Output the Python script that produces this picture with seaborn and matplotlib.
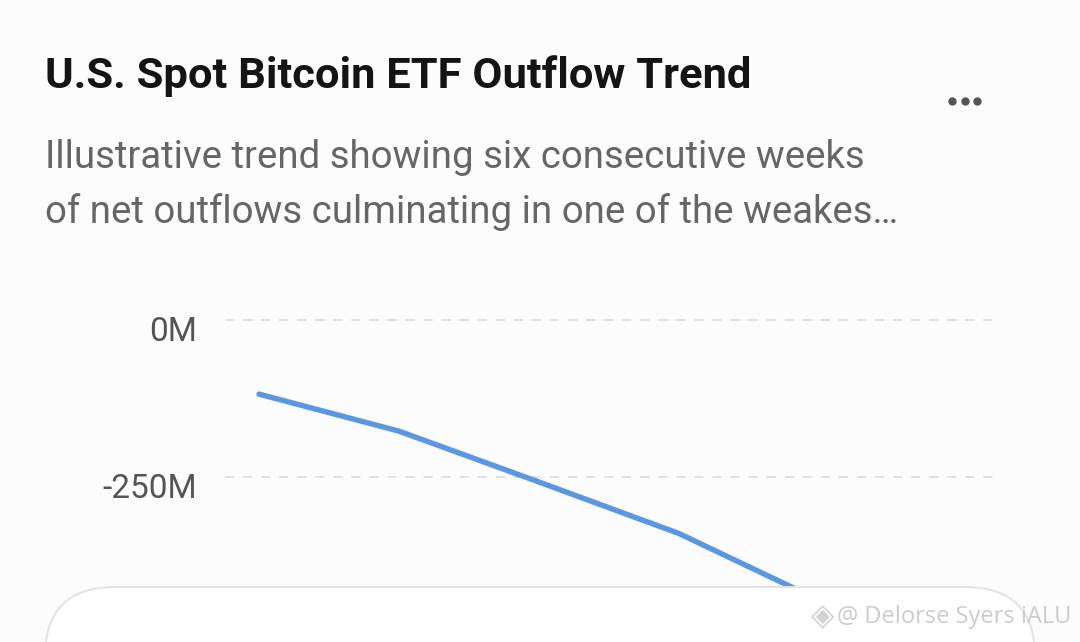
import numpy as np
import pandas as pd
import seaborn as sns
from matplotlib import pyplot as plt
from matplotlib.patches import FancyBboxPatch
from matplotlib.lines import Line2D
from matplotlib.transforms import IdentityTransform, ScaledTranslation

weeks = ['Week 1', 'Week 2', 'Week 3', 'Week 4', 'Week 5', 'Week 6']
net_flow = [-118, -177, -258, -340, -446, -700]
y_ticks = [0, -250]
y_labels = ['0M', '-250M']

df = pd.DataFrame({'week': np.arange(len(weeks)), 'flow': net_flow})

sns.set_style('white')
plt.rcParams['font.family'] = ['Roboto', 'DejaVu Sans']

W, H = 1080, 642
fig = plt.figure(figsize=(W / 100, H / 100), dpi=100)
fig.patch.set_facecolor('#fcfcfc')

def fy(y):
    return 1 - y / H

fig.text(45 / W, fy(88), 'U.S. Spot Bitcoin ETF Outflow Trend', fontsize=31.3,
         fontweight='bold', color='#141414', va='baseline', ha='left')
fig.text(45 / W, fy(168), 'Illustrative trend showing six consecutive weeks',
         fontsize=27.6, color='#666666', va='baseline', ha='left')
fig.text(45 / W, fy(223), 'of net outflows culminating in one of the weakes\u2026',
         fontsize=27.6, color='#666666', va='baseline', ha='left')

# "more" menu dots
fig.add_artist(Line2D([952 / W, 965 / W, 977 / W], [fy(101)] * 3, transform=fig.transFigure,
                      marker='o', markersize=5, linestyle='none', color='#555555'))

# axes: x from 225 to 995 px, y from 300 to 642 px
ax = fig.add_axes([225 / W, 0, (995 - 225) / W, (642 - 300) / H])
ax.set_facecolor('none')
sns.lineplot(data=df, x='week', y='flow', ax=ax, color='#5a97e0', linewidth=3.9)
ax.set_xlim(-34 / 140, 5 + 36 / 140)
ax.set_ylim(-(642 - 320) / 0.628, (320 - 300) / 0.628)
ax.set_yticks(y_ticks)
ax.set_yticklabels(y_labels)
ax.set_xticks([])
ax.set_xlabel('')
ax.set_ylabel('')
for v in y_ticks:
    ax.axhline(v, color='#dddddd', linewidth=1.3, linestyle=(0, (5, 5)), zorder=0)
ax.tick_params(axis='y', length=0, pad=20, labelsize=24, labelcolor='#555555')
for lab in ax.get_yticklabels():
    lab.set_transform(lab.get_transform() + ScaledTranslation(0, -0.08, fig.dpi_scale_trans))
sns.despine(ax=ax, left=True, bottom=True)

# overlay card at the bottom
card = FancyBboxPatch((45, -200), 990, 255, boxstyle='round,pad=0,rounding_size=70',
                      transform=IdentityTransform(), facecolor='#ffffff',
                      edgecolor='#e3e3e3', linewidth=1.5, zorder=10)
fig.patches.append(card)

fig.text(834 / W, fy(617), '\u25c8', fontsize=22, family='DejaVu Sans',
         color='#d2d2d2', va='center', ha='right', zorder=11)
fig.text(1071 / W, fy(617), '@ Delorse Syers iALU', fontsize=17, family='Open Sans',
         color='#cccccc', va='center', ha='right', zorder=11)

fig.savefig('out.png', dpi=100, facecolor=fig.get_facecolor())
